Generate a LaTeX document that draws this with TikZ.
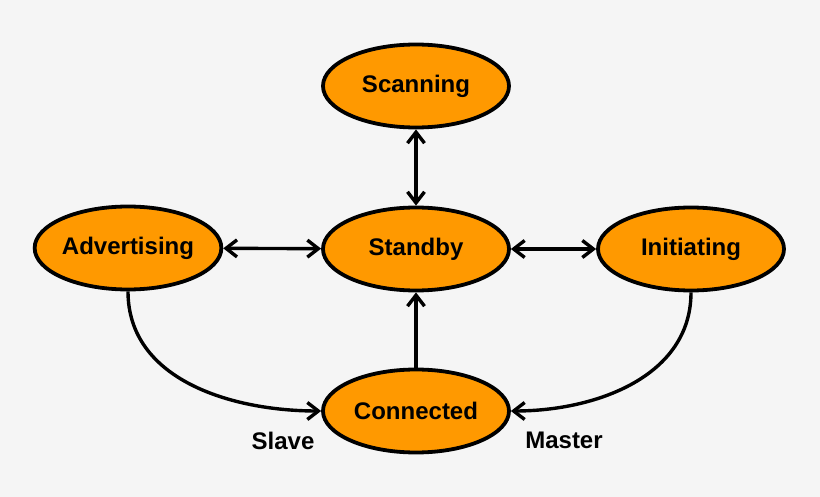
\documentclass[tikz,border=0pt]{standalone}
\usepackage{fontspec}
\setmainfont{Liberation Sans}
\usetikzlibrary{shapes.geometric,arrows.meta}
\definecolor{stateorange}{HTML}{FF9900}
\definecolor{paper}{HTML}{F5F5F5}
\begin{document}
\begin{tikzpicture}[x=1pt,y=-1pt,
    state/.style={ellipse,draw=black,line width=3.8pt,fill=stateorange,
      minimum width=186pt,minimum height=83pt,inner sep=0pt,
      font=\fontsize{24}{28}\selectfont\bfseries},
    link/.style={line width=3.4pt,arrows={-Straight Barb[length=11pt,width=17pt]}},
    both/.style={link,arrows={Straight Barb[length=11pt,width=17pt]-Straight Barb[length=11pt,width=17pt]}},
    role/.style={font=\fontsize{24}{28}\selectfont\bfseries}]
  \fill[paper] (0,0) rectangle (820,497);
  \useasboundingbox (0,0) rectangle (820,497);

  \node[state] (scanning) at (416,86) {Scanning};
  \node[state] (standby) at (416,249) {Standby};
  \node[state] (advertising) at (128,248) {Advertising};
  \node[state] (initiating) at (691,249) {Initiating};
  \node[state] (connected) at (416,411) {Connected};

  \draw[both] (scanning) -- (standby);
  \draw[both] (advertising) -- (standby);
  \draw[both] (standby) -- (initiating);
  \draw[link] (connected) -- (standby);

  \draw[link] (advertising.south) to[out=-90,in=180] (connected.west);
  \draw[link] (initiating.south) to[out=-90,in=0] (connected.east);

  \node[role] (slave) at (283,441) {Slave};
  \node[role] (master) at (564,440) {Master};
\end{tikzpicture}
\end{document}
